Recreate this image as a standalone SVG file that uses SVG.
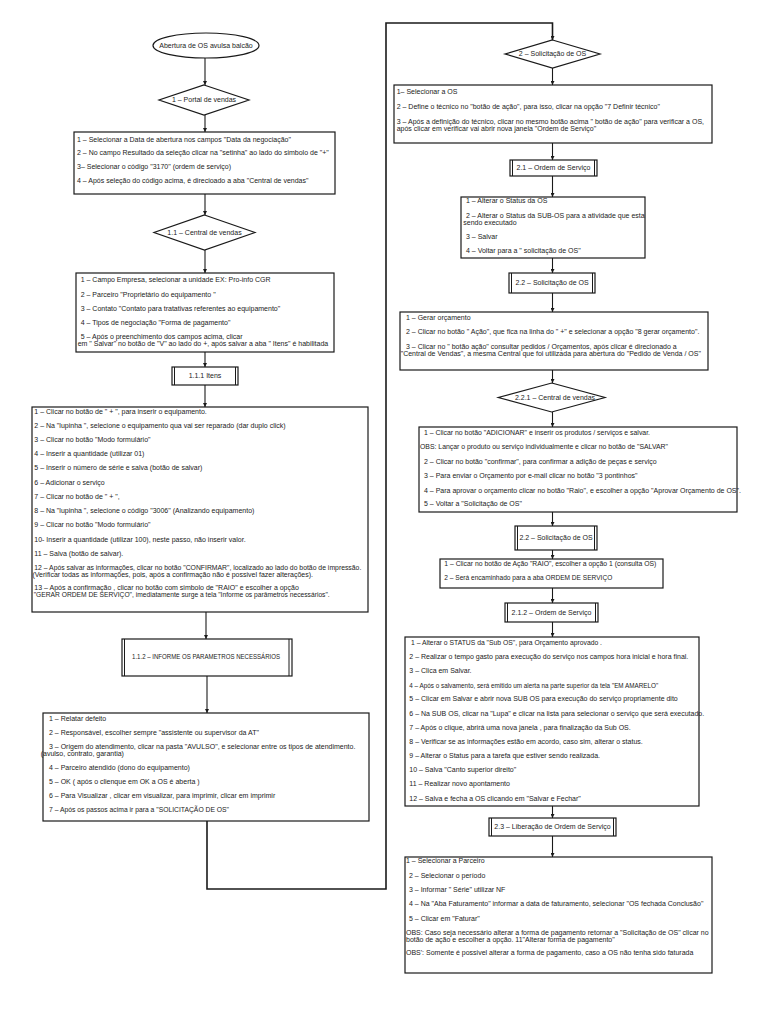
<svg xmlns="http://www.w3.org/2000/svg" width="768" height="1024" viewBox="0 0 768 1024">
<style>
.bg{fill:#fff}
.box{fill:#fff;stroke:#1a1a1a;stroke-width:1.2}
.in{stroke:#1a1a1a;stroke-width:1}
.t{font-family:"Liberation Sans",Arial,sans-serif;font-size:7px;fill:#222}
.c{text-anchor:middle}
.ln{fill:none;stroke:#1a1a1a;stroke-width:1.1}
.lp{fill:none;stroke:#1a1a1a;stroke-width:1.6}
</style>
<defs>
<marker id="ah" viewBox="0 0 6 6" refX="6" refY="3" markerWidth="4" markerHeight="4" markerUnits="userSpaceOnUse" orient="auto">
<path d="M0,0 L6,3 L0,6 z" fill="#1a1a1a"/>
</marker>
</defs>
<rect class="bg" x="0" y="0" width="768" height="1024"/>

<g id="connectors">
<line class="ln" x1="205" y1="58" x2="205" y2="85" marker-end="url(#ah)"/>
<line class="ln" x1="205" y1="115" x2="205" y2="132" marker-end="url(#ah)"/>
<line class="ln" x1="205" y1="194" x2="205" y2="215" marker-end="url(#ah)"/>
<line class="ln" x1="205" y1="250" x2="205" y2="273" marker-end="url(#ah)"/>
<line class="ln" x1="205" y1="352" x2="205" y2="367" marker-end="url(#ah)"/>
<line class="ln" x1="205" y1="385" x2="205" y2="407" marker-end="url(#ah)"/>
<line class="ln" x1="206" y1="612" x2="206" y2="639" marker-end="url(#ah)"/>
<line class="ln" x1="207" y1="676" x2="207" y2="713" marker-end="url(#ah)"/>
<path class="lp" d="M207,821 L207,889 L386,889 L386,23 L552.5,23 L552.5,40" marker-end="url(#ah)"/>
<line class="ln" x1="552.5" y1="68" x2="552.5" y2="85" marker-end="url(#ah)"/>
<line class="ln" x1="552.5" y1="143" x2="552.5" y2="160" marker-end="url(#ah)"/>
<line class="ln" x1="552.5" y1="176" x2="552.5" y2="197" marker-end="url(#ah)"/>
<line class="ln" x1="552.5" y1="258" x2="552.5" y2="273" marker-end="url(#ah)"/>
<line class="ln" x1="552.5" y1="293" x2="552.5" y2="312" marker-end="url(#ah)"/>
<line class="ln" x1="552.5" y1="370" x2="552.5" y2="383" marker-end="url(#ah)"/>
<line class="ln" x1="552.5" y1="412" x2="552.5" y2="427" marker-end="url(#ah)"/>
<line class="ln" x1="552.5" y1="512" x2="552.5" y2="526" marker-end="url(#ah)"/>
<line class="ln" x1="552.5" y1="550" x2="552.5" y2="559" marker-end="url(#ah)"/>
<line class="ln" x1="552.5" y1="588" x2="552.5" y2="603" marker-end="url(#ah)"/>
<line class="ln" x1="552.5" y1="622" x2="552.5" y2="637" marker-end="url(#ah)"/>
<line class="ln" x1="552.5" y1="806" x2="552.5" y2="818" marker-end="url(#ah)"/>
<line class="ln" x1="552.5" y1="836" x2="552.5" y2="857" marker-end="url(#ah)"/>
</g>

<g id="start">
<ellipse class="box" cx="206" cy="45.5" rx="53" ry="12.5"/>
<text class="t c" x="206" y="47.8">Abertura de OS avulsa balcão</text>
</g>

<g id="d1">
<polygon class="box" points="204,85 249,100 204,115 159,100"/>
<text class="t c" x="204" y="102.3">1 – Portal de vendas</text>
</g>

<g id="b1">
<rect class="box" x="74" y="132" width="261" height="62"/>
<text class="t" x="77" y="141.6">1 – Selecionar a Data de abertura nos campos "Data da negociação"</text>
<text class="t" x="77" y="154.6">2 –  No campo Resultado da seleção clicar na "setinha" ao lado do simbolo de "+"</text>
<text class="t" x="77" y="169">3–  Selecionar o código "3170" (ordem de serviço)</text>
<text class="t" x="77" y="183.3">4 – Após seleção  do código acima, é direcioado a aba "Central de vendas"</text>
</g>

<g id="d11">
<polygon class="box" points="204.5,215 255,232.5 204.5,250 154,232.5"/>
<text class="t c" x="204.5" y="234.8">1.1 – Central de vendas</text>
</g>

<g id="b2">
<rect class="box" x="76" y="273" width="258" height="79"/>
<text class="t" x="80.7" y="282.3">1 –  Campo Empresa, selecionar  a unidade EX:  Pro-info CGR</text>
<text class="t" x="80.7" y="296.6">2 – Parceiro "Proprietário do equipamento "</text>
<text class="t" x="80.7" y="311">3 – Contato "Contato para tratativas referentes ao equipamento"</text>
<text class="t" x="80.7" y="325">4 – Tipos de negociação "Forma de pagamento"</text>
<text class="t" x="80.7" y="339">5 – Após o preenchimento dos campos acima, clicar</text>
<text class="t" x="77.7" y="346.3">em " Salvar" no botão de "V" ao lado do +, após salvar a aba " Itens" é habilitada</text>
</g>

<g id="p111">
<rect class="box" x="172" y="367" width="66" height="18"/>
<line class="in" x1="174.5" y1="367" x2="174.5" y2="385"/>
<line class="in" x1="235.5" y1="367" x2="235.5" y2="385"/>
<text class="t c" x="205" y="378.3">1.1.1 Itens</text>
</g>

<g id="b3">
<rect class="box" x="32" y="407" width="336" height="205"/>
<text class="t" x="34.3" y="414.3">1 –  Clicar no botão de " + ",  para inserir o equipamento.</text>
<text class="t" x="34.3" y="427.6">2 – Na "lupinha ", selecione o equipamento qua vai ser reparado (dar duplo click)</text>
<text class="t" x="34.3" y="442">3 –  Clicar no botão "Modo formulário"</text>
<text class="t" x="34.3" y="456.3">4 – Inserir a quantidade  (utilizar 01)</text>
<text class="t" x="34.3" y="470.3">5 – Inserir o número de série e salva (botão de salvar)</text>
<text class="t" x="34.3" y="484.6">6 – Adicionar o serviço</text>
<text class="t" x="34.3" y="499">7 –  Clicar no botão de " + ",</text>
<text class="t" x="34.3" y="512.6">8 – Na "lupinha ", selecione o código "3006" (Analizando equipamento)</text>
<text class="t" x="34.3" y="526.6">9 –  Clicar no botão "Modo formulário"</text>
<text class="t" x="34.3" y="541.6">10- Inserir a quantidade  (utilizar  100), neste passo, não inserir valor.</text>
<text class="t" x="34.3" y="556">11 – Salva (botão de salvar).</text>
<text class="t" x="34.3" y="570" textLength="327" lengthAdjust="spacingAndGlyphs">12 – Após salvar as informações, clicar no botão "CONFIRMAR", localizado ao lado do botão de impressão.</text>
<text class="t" x="32.5" y="577">(Verificar  todas as informações, pois, após a confirmação não é possivel fazer alterações).</text>
<text class="t" x="34.3" y="590.3">13 – Após a confirmação , clicar no botão  com simbolo de "RAIO" e escolher a opção</text>
<text class="t" x="33.7" y="597" textLength="296" lengthAdjust="spacingAndGlyphs">"GERAR ORDEM DE SERVIÇO", imediatamente surge a tela  "Informe os parâmetros necessários".</text>
</g>

<g id="p112">
<rect class="box" x="122" y="639" width="170" height="37"/>
<line class="in" x1="124.5" y1="639" x2="124.5" y2="676"/>
<line class="in" x1="289" y1="639" x2="289" y2="676"/>
<text class="t" x="132" y="659.3" textLength="148" lengthAdjust="spacingAndGlyphs">1.1.2 – INFORME OS PARAMETROS NECESSÁRIOS</text>
</g>

<g id="b4">
<rect class="box" x="43" y="713" width="326" height="108"/>
<text class="t" x="49" y="721">1 – Relatar defeito</text>
<text class="t" x="49" y="734.6">2 – Responsável, escolher sempre "assistente ou supervisor da AT"</text>
<text class="t" x="49" y="748.6">3 – Origem do atendimento, clicar na pasta "AVULSO", e selecionar entre os tipos de atendimento.</text>
<text class="t" x="40.7" y="755.6">(avulso, contrato, garantia)</text>
<text class="t" x="49" y="770">4 – Parceiro atendido (dono do equipamento)</text>
<text class="t" x="49" y="783.6">5 – OK ( após o clienque em OK a OS é aberta )</text>
<text class="t" x="49" y="797.6">6 – Para Visualizar , clicar em visualizar, para imprimir, clicar em imprimir</text>
<text class="t" x="49" y="811.6" textLength="180" lengthAdjust="spacingAndGlyphs">7 – Após os passos acima ir para a "SOLICITAÇÃO DE OS"</text>
</g>

<g id="d2">
<polygon class="box" points="552.5,40 600,54 552.5,68 505,54"/>
<text class="t c" x="552.5" y="56.3">2 – Solicitação de OS</text>
</g>

<g id="b5">
<rect class="box" x="394" y="85" width="318" height="58"/>
<text class="t" x="396.7" y="93.6">1– Selecionar a OS</text>
<text class="t" x="396.7" y="108.6">2 – Define o técnico no "botão de ação", para isso,  clicar na opção  "7 Definir técnico"</text>
<text class="t" x="396.7" y="123.6">3 – Após a definição do técnico, clicar no mesmo botão acima " botão de ação" para verificar a OS,</text>
<text class="t" x="396.7" y="130.6">após clicar em verificar vai abrir nova janela "Ordem de Serviço"</text>
</g>

<g id="p21">
<rect class="box" x="510" y="160" width="87" height="16"/>
<line class="in" x1="512.5" y1="160" x2="512.5" y2="176"/>
<line class="in" x1="594.5" y1="160" x2="594.5" y2="176"/>
<text class="t c" x="553.5" y="170.3">2.1 – Ordem de Serviço</text>
</g>

<g id="b6">
<rect class="box" x="461" y="197" width="184" height="61"/>
<text class="t" x="466" y="203.3">1 – Alterar o Status da OS</text>
<text class="t" x="466" y="217.6">2 – Alterar o Status da SUB-OS para a atividade que esta</text>
<text class="t" x="463.3" y="224.6">sendo executado</text>
<text class="t" x="466" y="238.6">3 – Salvar</text>
<text class="t" x="466" y="253">4 – Voltar para a " solicitação de OS"</text>
</g>

<g id="p22a">
<rect class="box" x="509" y="273" width="86" height="20"/>
<line class="in" x1="511.5" y1="273" x2="511.5" y2="293"/>
<line class="in" x1="592.5" y1="273" x2="592.5" y2="293"/>
<text class="t c" x="552" y="285.3">2.2 – Solicitação de OS</text>
</g>

<g id="b7">
<rect class="box" x="400" y="312" width="308" height="58"/>
<text class="t" x="406" y="320">1 – Gerar orçamento</text>
<text class="t" x="406" y="334">2 – Clicar no botão  " Ação",  que fica na linha do " +" e selecionar a opção "8 gerar orçamento".</text>
<text class="t" x="406" y="348.6">3 –  Clicar no " botão ação" consultar pedidos / Orçamentos, após clicar é direcionado a</text>
<text class="t" x="400.7" y="355.6">"Central de Vendas", a mesma Central que foi utilizada para abertura do "Pedido de Venda / OS"</text>
</g>

<g id="d221">
<polygon class="box" points="551.7,383 605,397.5 551.7,412 498.3,397.5"/>
<text class="t c" x="555" y="399.8">2.2.1 – Central de vendas</text>
</g>

<g id="b8">
<rect class="box" x="419" y="427" width="318" height="85"/>
<text class="t" x="424" y="435" textLength="226" lengthAdjust="spacingAndGlyphs">1 – Clicar no botão "ADICIONAR"  e inserir os produtos / serviços e salvar.</text>
<text class="t" x="420" y="449" textLength="248" lengthAdjust="spacingAndGlyphs">OBS: Lançar o produto ou serviço individualmente e clicar no botão de "SALVAR"</text>
<text class="t" x="424" y="463.6">2 – Clicar no botão "confirmar", para confirmar a adição de peças e serviço</text>
<text class="t" x="424" y="478">3 – Para enviar o Orçamento por e-mail clicar no botão "3 pontinhos"</text>
<text class="t" x="424" y="492.6" textLength="317" lengthAdjust="spacingAndGlyphs">4 – Para aprovar o orçamento clicar no botão "Raio", e escolher a opção "Aprovar Orçamento de OS".</text>
<text class="t" x="424" y="506.3">5 – Voltar a "Solicitação de OS"</text>
</g>

<g id="p22b">
<rect class="box" x="515" y="526" width="82" height="24"/>
<line class="in" x1="517.5" y1="526" x2="517.5" y2="550"/>
<line class="in" x1="594.5" y1="526" x2="594.5" y2="550"/>
<text class="t c" x="556" y="540.3">2.2 – Solicitação de OS</text>
</g>

<g id="b9">
<rect class="box" x="440" y="559" width="223" height="29"/>
<text class="t" x="444.3" y="566" textLength="212" lengthAdjust="spacingAndGlyphs">1 – Clicar no botão de Ação "RAIO", escolher a opção 1 (consulta OS)</text>
<text class="t" x="444.3" y="580.3" textLength="168" lengthAdjust="spacingAndGlyphs">2 – Será encaminhado para a aba ORDEM DE SERVIÇO</text>
</g>

<g id="p212">
<rect class="box" x="505" y="603" width="93" height="19"/>
<line class="in" x1="507.5" y1="603" x2="507.5" y2="622"/>
<line class="in" x1="595.5" y1="603" x2="595.5" y2="622"/>
<text class="t c" x="551.5" y="614.8">2.1.2 – Ordem de Serviço</text>
</g>

<g id="b10">
<rect class="box" x="405" y="637" width="294" height="169"/>
<text class="t" x="411" y="645" textLength="191" lengthAdjust="spacingAndGlyphs">1 – Alterar o STATUS da "Sub OS", para Orçamento aprovado .</text>
<text class="t" x="409.3" y="659.3">2 – Realizar o tempo gasto para execução do serviço nos campos  hora inicial e hora final.</text>
<text class="t" x="409.3" y="673.3">3 – Clica em Salvar.</text>
<text class="t" x="409.3" y="687.6" textLength="249" lengthAdjust="spacingAndGlyphs">4 – Após o salvamento, será emitido um alerta na parte superior da tela "EM AMARELO"</text>
<text class="t" x="409.3" y="701.3">5 – Clicar em Salvar e abrir nova SUB OS para execução do serviço propriamente dito</text>
<text class="t" x="409.3" y="715.6">6 – Na SUB OS, clicar na "Lupa" e clicar na lista para selecionar o serviço que será executado.</text>
<text class="t" x="409.3" y="730">7 – Após o clique, abrirá uma nova janela , para finalização da Sub OS.</text>
<text class="t" x="409.3" y="744">8 – Verificar se as informações estão em acordo, caso sim, alterar o status.</text>
<text class="t" x="409.3" y="758.3">9 – Alterar o Status para a tarefa que estiver sendo realizada.</text>
<text class="t" x="409.3" y="772.3">10 – Salva "Canto superior direito"</text>
<text class="t" x="409.3" y="786.3">11 – Realizar novo apontamento</text>
<text class="t" x="409.3" y="800.6">12 – Salva e fecha a OS clicando em "Salvar e Fechar"</text>
</g>

<g id="p23">
<rect class="box" x="489" y="818" width="127" height="18"/>
<line class="in" x1="491.5" y1="818" x2="491.5" y2="836"/>
<line class="in" x1="613.5" y1="818" x2="613.5" y2="836"/>
<text class="t c" x="552.5" y="829.3">2.3 – Liberação de Ordem de Serviço</text>
</g>

<g id="b11">
<rect class="box" x="405" y="857" width="307" height="116"/>
<text class="t" x="406" y="863">1 – Selecionar a Parceiro</text>
<text class="t" x="409" y="877.6">2 – Selecionar o período</text>
<text class="t" x="409" y="892">3 – Informar " Série" utilizar NF</text>
<text class="t" x="409" y="906.3">4 – Na "Aba Faturamento" informar a data de faturamento, selecionar "OS fechada Conclusão"</text>
<text class="t" x="409" y="920.6">5 – Clicar em "Faturar"</text>
<text class="t" x="406" y="935">OBS: Caso seja necessário alterar a forma de pagamento retornar a "Solicitação de OS" clicar no</text>
<text class="t" x="406" y="941.6">botão de ação e escolher a opção. 11"Alterar forma de pagamento"</text>
<text class="t" x="406" y="954.6">OBS': Somente é possivel alterar a forma de pagamento, caso a OS não tenha sido faturada</text>
</g>
</svg>
